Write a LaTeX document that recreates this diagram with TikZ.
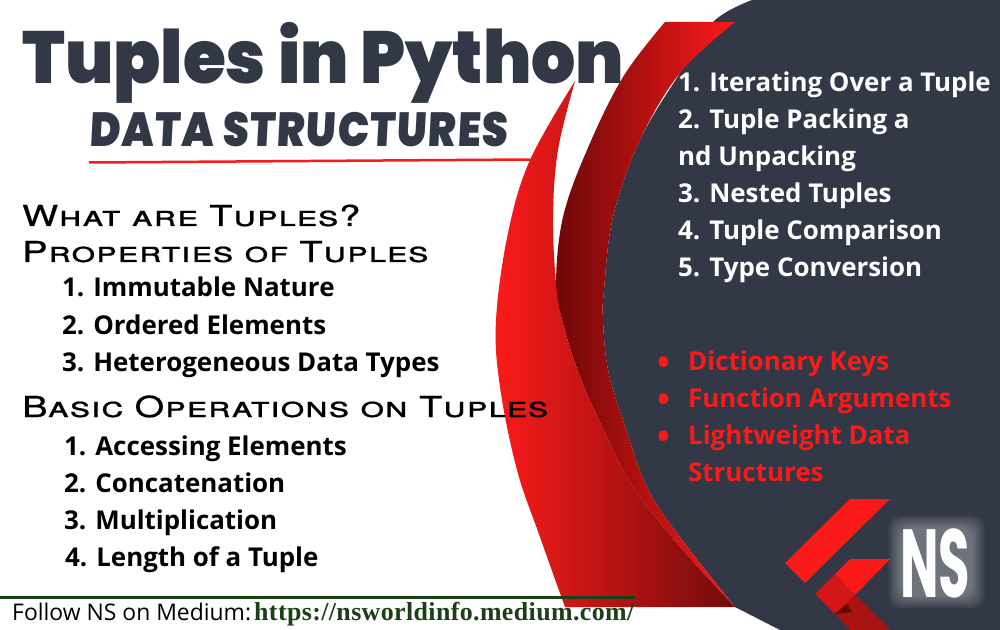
\documentclass[tikz,border=0pt]{standalone}
\usepackage{fontspec}
\usetikzlibrary{shadings}
\setmainfont{Open Sans}
\newfontfamily\titlefont{Poppins Black}
\newfontfamily\stampfont[FakeSlant=0.06,LetterSpace=3]{Poppins Black}
\newfontfamily\logofont{Poppins Bold}
\newfontfamily\headfont[Letters=SmallCaps,FakeStretch=1.32,LetterSpace=2.5,FakeBold=0.6]{TeX Gyre Heros}
\newfontfamily\urlfont[LetterSpace=1.5]{Liberation Serif Bold}
\definecolor{slatecol}{HTML}{323846}
\definecolor{redcol}{HTML}{FB1A1A}
\definecolor{darkredcol}{HTML}{6E0808}
\definecolor{midredcol}{HTML}{B00F0F}
\definecolor{forestcol}{HTML}{1B3F16}
\tikzset{
  listitem/.style={anchor=base west,inner sep=0pt,font=\fontsize{26}{26}\selectfont\bfseries},
  rightitem/.style={listitem,text=white},
  reditem/.style={listitem,text=redcol},
  bulletitem/.style={anchor=base west,inner sep=0pt,text=redcol,font=\fontsize{34}{34}\selectfont\bfseries},
  headitem/.style={anchor=base west,inner sep=0pt,font=\fontsize{29}{29}\selectfont\headfont,text=black},
}
\begin{document}
\begin{tikzpicture}[x=1bp,y=-1bp]
  \useasboundingbox (0,0) rectangle (1000,630);
  \fill[white] (0,0) rectangle (1000,630);
  % Shape: dark disc
  \fill[slatecol] (752,0) -- (1000,0) -- (1000,630) -- (780,630)
    -- plot[smooth,tension=0.6] coordinates {(735,607) (680,537) (647,487) (623,420) (608,370) (603,320) (604,290) (613,217) (640,140) (680,73) (713,22) (752,0)} -- cycle;
  % Shape: dark red band
  \shade[left color=darkredcol,middle color=midredcol,right color=redcol]
    (665,22) -- (735,22)
    -- plot[smooth,tension=0.6] coordinates {(735,22) (680,73) (640,140) (613,217) (604,290) (603,320) (608,370) (623,420) (647,487) (680,537) (735,607)}
    -- plot[smooth,tension=0.6] coordinates {(735,607) (680,547) (633,487) (607,437) (580,377) (562,320) (556,283) (563,217) (587,150) (623,77) (665,22)} -- cycle;
  % Shape: front red band
  \shade[left color=redcol,middle color=redcol!76!black,right color=redcol!45!black]
    (575,81) -- plot[smooth,tension=0.6] coordinates {(575,81) (530,160) (508,233) (496,320) (500,387) (517,470) (540,537) (565,607)}
    -- (735,607)
    -- plot[smooth,tension=0.6] coordinates {(735,607) (680,547) (633,487) (607,437) (580,377) (562,320) (556,283) (553,217) (558,150) (575,81)} -- cycle;
  % Shape: logo
  \fill[redcol] (850,499) -- (890,499) -- (805,583) -- (785,563) -- cycle;
  \fill[redcol] (850,559) -- (890,559) -- (855,595) -- (835,574) -- cycle;
  \fill[redcol!85!black] (835,574) -- (855,595) -- (835,614) -- (815,594) -- cycle;
  \fill[redcol!68!black] (835,614) -- (855,595) -- (890,630) -- (850,630) -- cycle;
  \fill[redcol!40!black] (835,614) -- (847,604) -- (852,612) -- cycle;
  % Shape: glow
  \foreach \glowsize in {1,2,...,14}
    \fill[white,opacity=0.028,rounded corners=12bp] (902-\glowsize,529-\glowsize) rectangle (971+\glowsize,595+\glowsize);
  % Node: logotext
  \node[anchor=base west,inner sep=0pt,text=white] (logotext) at (900,597)
    {\scalebox{0.53}[1]{\fontsize{97}{97}\selectfont\logofont NS}};
  % Node: title
  \node[anchor=base west,inner sep=0pt,text=slatecol] (title) at (22,84)
    {\scalebox{0.943}[1]{\fontsize{74}{74}\selectfont\titlefont Tuples in Python}};
  % Node: subtitle
  \node[anchor=base west,inner sep=0pt,text=slatecol] (subtitle) at (89,147)
    {\scalebox{0.872}[1]{\fontsize{48}{48}\selectfont\stampfont DATA STRUCTURES}};
  \draw[redcol,line width=2.5bp] (89,162.5) -- (530,159.5);
  % Nodes: left column
  \node[headitem] (whatare) at (22,226) {What are Tuples?};
  \node[headitem] (properties) at (22,262) {Properties of Tuples};
  \node[listitem] (immutable) at (62,297) {1. Immutable Nature};
  \node[listitem] (ordered) at (62,334) {2. Ordered Elements};
  \node[listitem] (hetero) at (62,371) {3. Heterogeneous Data Types};
  \node[headitem] (basicops) at (22,417) {Basic Operations on Tuples};
  \node[listitem] (accessing) at (64,455) {1. Accessing Elements};
  \node[listitem] (concat) at (64,492) {2. Concatenation};
  \node[listitem] (multi) at (64,529) {3. Multiplication};
  \node[listitem] (length) at (65,566) {4. Length of a Tuple};
  % Nodes: right column
  \node[rightitem] (iterating) at (678,92) {1. Iterating Over a Tuple};
  \node[rightitem] (packing) at (678,129) {2. Tuple Packing a};
  \node[rightitem] (unpacking) at (678,166) {nd Unpacking};
  \node[rightitem] (nested) at (678,203) {3. Nested Tuples};
  \node[rightitem] (comparison) at (678,240) {4. Tuple Comparison};
  \node[rightitem] (conversion) at (678,277) {5. Type Conversion};
  % Nodes: red list
  \node[bulletitem] (bulleta) at (657,374) {•};
  \node[reditem] (dictkeys) at (688,370) {Dictionary Keys};
  \node[bulletitem] (bulletb) at (657,411) {•};
  \node[reditem] (funcargs) at (688,407) {Function Arguments};
  \node[bulletitem] (bulletc) at (657,448) {•};
  \node[reditem] (lightdata) at (688,444) {Lightweight Data};
  \node[reditem] (structures) at (688,481) {Structures};
  % Footer
  \draw[forestcol,line width=3bp] (0,597) -- (635,597);
  \node[anchor=base west,inner sep=0pt,text=black] (follow) at (12,620)
    {\fontsize{23}{23}\selectfont Follow NS on Medium:};
  \node[anchor=base west,inner sep=0pt,text=forestcol] (url) at (254,620)
    {\fontsize{26}{26}\selectfont\urlfont https://nsworldinfo.medium.com/};
\end{tikzpicture}
\end{document}
